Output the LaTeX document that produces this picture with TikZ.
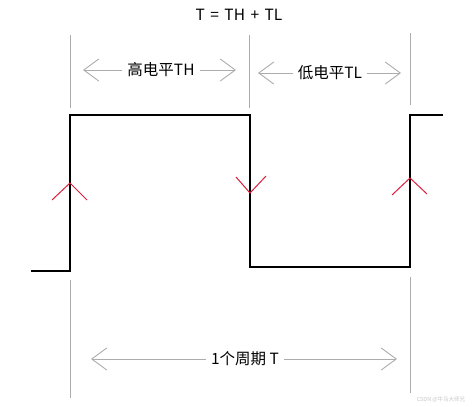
\documentclass[tikz,border=0pt]{standalone}
\usepackage{fontspec}
\setmainfont{Noto Sans CJK SC}
\usetikzlibrary{arrows.meta,positioning}
\definecolor{guidegray}{RGB}{172,172,172}
\definecolor{edgered}{RGB}{220,30,60}

\begin{document}
\begin{tikzpicture}[x=1pt,y=-1pt,
    guideline/.style={guidegray, line width=1pt},
    dimarrow/.style={guidegray, line width=0.9pt, -{Straight Barb[length=15pt,width=22pt,line width=0.9pt]}},
    wave/.style={black, line width=1.6pt, line join=miter},
    edgemark/.style={edgered, line width=1pt},
    lbl/.style={font=\fontsize{15.5}{15.5}\selectfont, inner xsep=5pt, inner ysep=2pt}]
    \useasboundingbox (0,0) rectangle (474,407);

    % Title
    \node[lbl] (title) at (239,15) {T\hspace{5.5pt}=\hspace{5.5pt}TH\hspace{5.5pt}+\hspace{5.5pt}TL};

    % Guide lines at the edges
    \draw[guideline] (70,35) -- (70,108);
    \draw[guideline] (249,35) -- (249,108);
    \draw[guideline] (410,33) -- (410,105);
    \draw[guideline] (70,280) -- (70,398);
    \draw[guideline] (410,277) -- (410,393);

    % High and low time spans
    \node[lbl] (high) at (161,70) {高电平TH};
    \coordinate (highL) at (83,70);
    \coordinate (highR) at (236,70);
    \draw[dimarrow] (high.west) -- (highL);
    \draw[dimarrow] (high.east) -- (highR);

    \node[lbl] (low) at (330,73) {低电平TL};
    \coordinate (lowL) at (258,73);
    \coordinate (lowR) at (401,73);
    \draw[dimarrow] (low.west) -- (lowL);
    \draw[dimarrow] (low.east) -- (lowR);

    % Square wave
    \draw[wave] (31,271) -- (70,271) -- (70,115) -- (250,115) -- (250,267)
        -- (410,267) -- (410,115) -- (443,115);

    % Edge marks
    \draw[edgemark] (52,200) -- (70,183) -- (87,200);
    \draw[edgemark] (236,177) -- (250,193) -- (266,176);
    \draw[edgemark] (392,195) -- (410,178) -- (427,194);

    % One period
    \node[lbl] (period) at (245,359) {1个周期 T};
    \coordinate (periodL) at (91,359);
    \coordinate (periodR) at (397,359);
    \draw[dimarrow] (period.west) -- (periodL);
    \draw[dimarrow] (period.east) -- (periodR);

    % Watermark
    \node[font=\fontsize{5.5}{6}\selectfont, text=gray!45] (mark) at (441,400) {CSDN @牛马大师兄};
\end{tikzpicture}
\end{document}
